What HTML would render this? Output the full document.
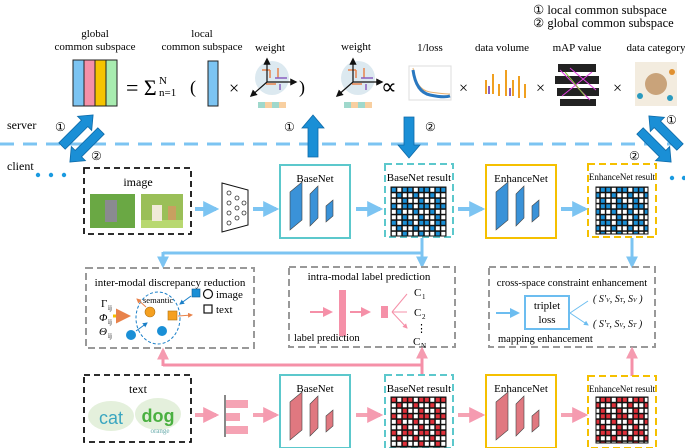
<!DOCTYPE html>
<html><head><meta charset="utf-8"><style>
html,body{margin:0;padding:0;background:#fff;}
svg{display:block;font-family:"Liberation Serif",serif;}
</style></head><body>
<svg width="685" height="448" viewBox="0 0 685 448" xmlns="http://www.w3.org/2000/svg">
<defs>
<pattern id="gb" width="16.5" height="16.5" patternUnits="userSpaceOnUse" x="391" y="187">
<rect width="16.5" height="16.5" fill="#111"/>
<rect x="0.8" y="0.8" width="4" height="4" fill="#1a8fd6"/><rect x="6.3" y="0.8" width="4" height="4" fill="#fff"/><rect x="11.8" y="0.8" width="4" height="4" fill="#1a8fd6"/>
<rect x="0.8" y="6.3" width="4" height="4" fill="#fff"/><rect x="6.3" y="6.3" width="4" height="4" fill="#1a8fd6"/><rect x="11.8" y="6.3" width="4" height="4" fill="#fff"/>
<rect x="0.8" y="11.8" width="4" height="4" fill="#fff"/><rect x="6.3" y="11.8" width="4" height="4" fill="#fff"/><rect x="11.8" y="11.8" width="4" height="4" fill="#1a8fd6"/>
</pattern>
<pattern id="gr" width="16.5" height="16.5" patternUnits="userSpaceOnUse" x="391" y="397">
<rect width="16.5" height="16.5" fill="#111"/>
<rect x="0.8" y="0.8" width="4" height="4" fill="#e0303a"/><rect x="6.3" y="0.8" width="4" height="4" fill="#fff"/><rect x="11.8" y="0.8" width="4" height="4" fill="#e0303a"/>
<rect x="0.8" y="6.3" width="4" height="4" fill="#fff"/><rect x="6.3" y="6.3" width="4" height="4" fill="#e0303a"/><rect x="11.8" y="6.3" width="4" height="4" fill="#fff"/>
<rect x="0.8" y="11.8" width="4" height="4" fill="#fff"/><rect x="6.3" y="11.8" width="4" height="4" fill="#fff"/><rect x="11.8" y="11.8" width="4" height="4" fill="#e0303a"/>
</pattern>
<marker id="ab" viewBox="0 0 10 10" refX="8" refY="5" markerWidth="4" markerHeight="4" orient="auto"><path d="M0,0L10,5L0,10z" fill="#7cc4f2"/></marker>
<marker id="ap" viewBox="0 0 10 10" refX="8" refY="5" markerWidth="4" markerHeight="4" orient="auto"><path d="M0,0L10,5L0,10z" fill="#f59bb0"/></marker>
<marker id="ak" viewBox="0 0 10 10" refX="8" refY="5" markerWidth="6" markerHeight="6" orient="auto"><path d="M0,0L10,5L0,10z" fill="#111"/></marker>
<marker id="ao" viewBox="0 0 10 10" refX="8" refY="5" markerWidth="5" markerHeight="5" orient="auto"><path d="M0,0L10,5L0,10z" fill="#e8824a"/></marker>
<marker id="al" viewBox="0 0 10 10" refX="8" refY="5" markerWidth="5" markerHeight="5" orient="auto"><path d="M0,0L10,5L0,10z" fill="#1a7fc8"/></marker>
<marker id="apk" viewBox="0 0 10 10" refX="8" refY="5" markerWidth="5" markerHeight="5" orient="auto"><path d="M0,0L10,5L0,10z" fill="#f590a8"/></marker>
<marker id="alb" viewBox="0 0 10 10" refX="8" refY="5" markerWidth="5" markerHeight="5" orient="auto"><path d="M0,0L10,5L0,10z" fill="#6cbdf0"/></marker>
<g id="net">
<path d="M10,32 L22,22 L22,60 L10,70z" fill="currentColor" stroke="#444" stroke-width="0.6"/>
<path d="M30,34 L38,26 L38,58 L30,66z" fill="currentColor" stroke="#444" stroke-width="0.6"/>
<path d="M46,46 L53,40 L53,56 L46,62z" fill="currentColor" stroke="#444" stroke-width="0.6"/>
</g>
<path id="darr" d="M0,-4.5 H32 V-10 L44,0 L32,10 V4.5 H0z" fill="#1a8fd6" stroke="#0e6aa8" stroke-width="0.8"/>
</defs>

<!-- legend -->
<text x="533" y="14" font-size="12.5">① local common subspace</text>
<text x="533" y="27" font-size="12.5">② global common subspace</text>

<!-- top labels -->
<g font-size="11" text-anchor="middle">
<text x="95" y="37">global</text><text x="95" y="50">common subspace</text>
<text x="202" y="37">local</text><text x="202" y="50">common subspace</text>
<text x="270" y="51">weight</text><text x="356" y="50">weight</text>
<text x="430" y="51">1/loss</text><text x="502" y="51">data volume</text>
<text x="577" y="51">mAP value</text><text x="656" y="51">data category</text>
</g>
<rect x="73" y="60" width="11" height="46" fill="#7cc4f2" stroke="#222"/>
<rect x="84" y="60" width="11" height="46" fill="#f590a8" stroke="#222"/>
<rect x="95" y="60" width="11" height="46" fill="#f5c400" stroke="#222"/>
<rect x="106" y="60" width="11" height="46" fill="#a8ecb0" stroke="#222"/>
<text x="126" y="95" font-size="22">= Σ</text>
<text x="159" y="84" font-size="11">N</text><text x="159" y="96" font-size="11">n=1</text>
<text x="190" y="93" font-size="18">(</text>
<rect x="208" y="61" width="10" height="45" fill="#7cc4f2" stroke="#222"/>
<text x="229" y="94" font-size="18">×</text>
<text x="299" y="93" font-size="18">)</text>
<text x="381" y="94" font-size="22">∝</text>
<text x="459" y="93" font-size="16">×</text>
<text x="536" y="93" font-size="16">×</text>
<text x="613" y="93" font-size="16">×</text>
<!-- weight icons -->
<g>
<circle cx="272" cy="78" r="17" fill="#dce9f0"/>
<path d="M262,70h8M270,70v8M278,68v10M266,84h10" stroke="#e8824a" stroke-width="1.5" fill="none"/>
<path d="M275,78h12M280,84v6" stroke="#8a5fc0" stroke-width="1.5"/>
<rect x="258" y="102" width="28" height="6" fill="#9fd8cc"/><rect x="265" y="102" width="7" height="6" fill="#f8cfa0"/><rect x="279" y="102" width="7" height="6" fill="#f8cfa0"/>
<path d="M267,82H296" stroke="#111" stroke-width="1.2" marker-end="url(#ak)"/>
<path d="M267,82V59" stroke="#111" stroke-width="1.2" marker-end="url(#ak)"/>
<path d="M267,82L251,96" stroke="#111" stroke-width="1.2" marker-end="url(#ak)"/>
</g>
<g transform="translate(86,0)">
<circle cx="272" cy="78" r="17" fill="#dce9f0"/>
<path d="M262,70h8M270,70v8M278,68v10M266,84h10" stroke="#e8824a" stroke-width="1.5" fill="none"/>
<path d="M275,78h12M280,84v6" stroke="#8a5fc0" stroke-width="1.5"/>
<rect x="258" y="102" width="28" height="6" fill="#9fd8cc"/><rect x="265" y="102" width="7" height="6" fill="#f8cfa0"/><rect x="279" y="102" width="7" height="6" fill="#f8cfa0"/>
<path d="M267,82H296" stroke="#111" stroke-width="1.2" marker-end="url(#ak)"/>
<path d="M267,82V59" stroke="#111" stroke-width="1.2" marker-end="url(#ak)"/>
<path d="M267,82L251,96" stroke="#111" stroke-width="1.2" marker-end="url(#ak)"/>
</g>
<!-- loss chart -->
<rect x="409" y="66" width="42" height="34" fill="#fff" stroke="#ddd"/>
<path d="M413,68 Q416,90 430,92 T450,94" stroke="#e8b070" fill="none"/>
<path d="M413,70 Q416,92 430,95 T450,96" stroke="#2a78c0" stroke-width="3" fill="none"/>
<!-- data volume -->
<g fill="#f0a020"><rect x="485" y="80" width="2" height="14"/><rect x="492" y="74" width="2" height="20"/><rect x="498" y="84" width="2" height="12"/><rect x="505" y="70" width="2" height="26"/><rect x="512" y="80" width="2" height="16"/><rect x="518" y="76" width="2" height="22"/><rect x="524" y="84" width="2" height="14"/></g>
<g fill="#8a5fc0"><rect x="488" y="86" width="2" height="8"/><rect x="509" y="88" width="2" height="8"/></g>
<!-- mAP -->
<g fill="#222"><rect x="558" y="64" width="38" height="8"/><rect x="555" y="76" width="44" height="8"/><rect x="557" y="88" width="42" height="8"/><rect x="560" y="99" width="36" height="7"/></g>
<path d="M560,70 L590,100 M570,68 L596,90 M562,96 L592,72" stroke="#e040e0" stroke-width="1" fill="none"/>
<path d="M565,72 L585,96" stroke="#8ac040"/>
<!-- data category -->
<rect x="635" y="62" width="42" height="44" fill="#f3ecdf"/>
<circle cx="656" cy="84" r="11" fill="#c9a37a"/>
<circle cx="640" cy="96" r="3" fill="#2a9abf"/><circle cx="672" cy="72" r="3" fill="#e09030"/><circle cx="670" cy="98" r="3" fill="#2a9abf"/>

<!-- server/client -->
<text x="7" y="129" font-size="12">server</text>
<text x="7" y="170" font-size="12">client</text>
<line x1="0" y1="144" x2="685" y2="144" stroke="#7cc4f2" stroke-width="3" stroke-dasharray="14,9"/>
<text x="55" y="131" font-size="12">①</text><text x="91" y="160" font-size="12">②</text>
<text x="284" y="131" font-size="12">①</text><text x="425" y="131" font-size="12">②</text>
<text x="666" y="124" font-size="12">①</text><text x="629" y="160" font-size="12">②</text>

<!-- big blue arrows -->
<use href="#darr" transform="translate(62,146) rotate(-45)"/>
<use href="#darr" transform="translate(101,131) rotate(135)"/>
<use href="#darr" transform="translate(680,147) rotate(-135)"/>
<use href="#darr" transform="translate(640,131) rotate(45)"/>
<g fill="#1a8fd6" stroke="#0e6aa8" stroke-width="0.8">
<path d="M308,157 V128 H302 L313,115 L324,128 H318 V157z"/>
<path d="M404,117 V145 H398 L409,158 L420,145 H414 V117z"/>
</g>

<!-- dots -->
<g fill="#1a9ae0"><circle cx="38" cy="175" r="2.2"/><circle cx="51" cy="175" r="2.2"/><circle cx="64" cy="175" r="2.2"/><circle cx="672" cy="178" r="2.2"/><circle cx="684" cy="178" r="2.2"/></g>

<!-- image row -->
<rect x="84" y="168" width="107" height="66" fill="none" stroke="#111" stroke-width="1.8" stroke-dasharray="6,4"/>
<text x="138" y="186" font-size="12" text-anchor="middle">image</text>
<rect x="90" y="194" width="45" height="34" fill="#6aa844"/><rect x="105" y="200" width="12" height="22" fill="#8a8a90"/>
<rect x="141" y="194" width="42" height="34" fill="#9abf58"/><rect x="141" y="220" width="42" height="8" fill="#b8d870"/><rect x="152" y="205" width="10" height="16" fill="#f0ead8"/><rect x="168" y="206" width="8" height="14" fill="#c8a060"/>
<path d="M222,183 L248,190 L248,225 L222,232z" fill="#fff" stroke="#111"/>
<g fill="none" stroke="#333" stroke-width="0.8"><circle cx="229" cy="193" r="2"/><circle cx="229" cy="203" r="2"/><circle cx="229" cy="213" r="2"/><circle cx="229" cy="223" r="2"/><circle cx="237" cy="198" r="2"/><circle cx="237" cy="208" r="2"/><circle cx="237" cy="218" r="2"/><circle cx="244" cy="203" r="2"/><circle cx="244" cy="213" r="2"/></g>
<rect x="280" y="165" width="70" height="73" fill="none" stroke="#5cc8cc" stroke-width="2"/>
<text x="315" y="182" font-size="11" text-anchor="middle">BaseNet</text>
<use href="#net" x="280" y="160" style="color:#3a92d8"/>
<rect x="385" y="164" width="68" height="73" fill="none" stroke="#5cc8cc" stroke-width="2" stroke-dasharray="7,4"/>
<text x="419" y="181" font-size="11" text-anchor="middle">BaseNet result</text>
<rect x="391" y="187" width="55" height="49" fill="url(#gb)" stroke="#111"/>
<rect x="486" y="165" width="70" height="73" fill="none" stroke="#f5c000" stroke-width="2"/>
<text x="521" y="182" font-size="11" text-anchor="middle">EnhanceNet</text>
<use href="#net" x="486" y="160" style="color:#3a92d8"/>
<rect x="588" y="164" width="68" height="73" fill="none" stroke="#f5c000" stroke-width="2" stroke-dasharray="7,4"/>
<text x="622" y="180" font-size="9" text-anchor="middle">EnhanceNet result</text>
<rect x="596" y="187" width="52" height="47" fill="url(#gb)" stroke="#111"/>
<g stroke="#7cc4f2" stroke-width="4" marker-end="url(#ab)">
<line x1="195" y1="209" x2="216" y2="209"/><line x1="253" y1="209" x2="276" y2="209"/><line x1="356" y1="209" x2="380" y2="209"/><line x1="458" y1="209" x2="482" y2="209"/><line x1="561" y1="209" x2="585" y2="209"/>
</g>
<!-- blue connectors -->
<path d="M422,238 V256 M163,253 H422" stroke="#7cc4f2" stroke-width="3" fill="none"/>
<g stroke="#7cc4f2" stroke-width="3" marker-end="url(#ab)"><line x1="163" y1="252" x2="163" y2="266"/><line x1="422" y1="252" x2="422" y2="266"/><line x1="632" y1="238" x2="632" y2="266"/></g>

<!-- middle boxes -->
<g fill="none" stroke="#999" stroke-width="2" stroke-dasharray="7,4">
<rect x="86" y="268" width="168" height="80"/><rect x="289" y="267" width="166" height="80"/><rect x="489" y="267" width="166" height="80"/>
</g>
<text x="170" y="286" font-size="11" text-anchor="middle">inter-modal discrepancy reduction</text>
<text x="101" y="307" font-size="11">Γ</text><text x="108" y="310" font-size="7">ij</text>
<text x="99" y="321" font-size="11" font-style="italic">Φ</text><text x="108" y="324" font-size="7">ij</text>
<text x="99" y="335" font-size="11" font-style="italic">Θ</text><text x="108" y="338" font-size="7">ij</text>
<line x1="113" y1="316" x2="128" y2="316" stroke="#f5c000" stroke-width="3" marker-end="url(#ao)"/>
<ellipse cx="158" cy="318" rx="22" ry="26" fill="none" stroke="#1a7fc8" stroke-dasharray="3,2"/>
<text x="143" y="303" font-size="8.5">semantic</text>
<circle cx="150" cy="312" r="5" fill="#f5a020" stroke="#b07010" stroke-width="0.6"/>
<line x1="146" y1="307" x2="137" y2="299" stroke="#e8824a" marker-end="url(#ao)"/>
<rect x="168" y="311" width="9" height="9" fill="#f5a020" stroke="#b07010" stroke-width="0.6"/>
<line x1="178" y1="316" x2="192" y2="315" stroke="#e8824a" marker-end="url(#ao)"/>
<circle cx="131" cy="335" r="5" fill="#1a8fd6"/><circle cx="162" cy="331" r="5" fill="#1a8fd6"/>
<line x1="136" y1="331" x2="147" y2="323" stroke="#1a7fc8" marker-end="url(#al)"/>
<rect x="192" y="289" width="8" height="8" fill="#1a8fd6" stroke="#0e5a90" stroke-width="0.6"/>
<line x1="191" y1="296" x2="180" y2="304" stroke="#1a7fc8" marker-end="url(#al)"/>
<circle cx="208" cy="294" r="4.5" fill="none" stroke="#111" stroke-width="1.2"/><text x="216" y="298" font-size="11">image</text>
<rect x="204" y="305" width="8" height="8" fill="none" stroke="#111" stroke-width="1.2"/><text x="216" y="313" font-size="11">text</text>

<text x="369" y="280" font-size="11" text-anchor="middle">intra-modal label prediction</text>
<line x1="310" y1="312" x2="331" y2="312" stroke="#f590a8" stroke-width="2" marker-end="url(#apk)"/>
<rect x="339" y="290" width="7" height="46" fill="#f590a8"/>
<line x1="350" y1="312" x2="369" y2="312" stroke="#f590a8" stroke-width="2" marker-end="url(#apk)"/>
<rect x="381" y="306" width="7" height="12" fill="#f590a8"/>
<path d="M392,312 L407,294 M392,312 L407,312 M392,312 L407,328" stroke="#f590a8" fill="none" marker-end="url(#apk)"/>
<text x="414" y="296" font-size="11">C</text><text x="422" y="299" font-size="7">1</text>
<text x="414" y="316" font-size="11">C</text><text x="422" y="319" font-size="7">2</text>
<text x="416" y="332" font-size="11">⋮</text>
<text x="413" y="345" font-size="11">C</text><text x="421" y="348" font-size="7">N</text>
<text x="294" y="341" font-size="10.5">label prediction</text>

<text x="572" y="286" font-size="10.5" text-anchor="middle">cross-space constraint enhancement</text>
<line x1="496" y1="313" x2="518" y2="313" stroke="#6cbdf0" stroke-width="2" marker-end="url(#alb)"/>
<rect x="525" y="296" width="44" height="33" fill="#fff" stroke="#6cbdf0" stroke-width="2"/>
<text x="547" y="309" font-size="11" text-anchor="middle">triplet</text><text x="547" y="323" font-size="11" text-anchor="middle">loss</text>
<path d="M570,313 L588,301 M570,313 L588,325" stroke="#6cbdf0" fill="none" marker-end="url(#alb)"/>
<text x="593" y="302" font-size="10" font-style="italic">( S′<tspan font-size="6">V</tspan>, S<tspan font-size="6">T</tspan>, S<tspan font-size="6">V</tspan> )</text>
<text x="593" y="327" font-size="10" font-style="italic">( S′<tspan font-size="6">T</tspan>, S<tspan font-size="6">V</tspan>, S<tspan font-size="6">T</tspan> )</text>
<text x="498" y="342" font-size="10.5">mapping enhancement</text>

<!-- pink connectors -->
<path d="M422,375 V364 M163,365 H422" stroke="#f590a8" stroke-width="3" fill="none"/>
<g stroke="#f590a8" stroke-width="3" marker-end="url(#ap)"><line x1="163" y1="366" x2="163" y2="350"/><line x1="422" y1="366" x2="422" y2="349"/><line x1="632" y1="376" x2="632" y2="349"/></g>

<!-- text row -->
<rect x="84" y="375" width="107" height="67" fill="none" stroke="#111" stroke-width="1.8" stroke-dasharray="6,4"/>
<text x="138" y="393" font-size="12" text-anchor="middle">text</text>
<ellipse cx="111" cy="416" rx="23" ry="15" fill="#e4f0dc"/><ellipse cx="158" cy="414" rx="23" ry="16" fill="#e4f0dc"/>
<text x="111" y="424" font-size="18" fill="#3aa6c0" text-anchor="middle" font-family="Liberation Sans,sans-serif">cat</text>
<text x="158" y="422" font-size="18" fill="#4ab040" text-anchor="middle" font-family="Liberation Sans,sans-serif" font-weight="bold">dog</text>
<text x="160" y="433" font-size="7" fill="#6aa" text-anchor="middle">orange</text>
<path d="M225,395 V437" stroke="#111" fill="none"/>
<rect x="226" y="400" width="22" height="8" fill="#f5a3b4"/><rect x="226" y="413" width="14" height="8" fill="#f5a3b4"/><rect x="226" y="426" width="22" height="8" fill="#f5a3b4"/>
<rect x="280" y="375" width="70" height="73" fill="none" stroke="#5cc8cc" stroke-width="2"/>
<text x="315" y="392" font-size="11" text-anchor="middle">BaseNet</text>
<use href="#net" x="280" y="370" style="color:#e07880"/>
<rect x="385" y="375" width="68" height="73" fill="none" stroke="#5cc8cc" stroke-width="2" stroke-dasharray="7,4"/>
<text x="419" y="392" font-size="11" text-anchor="middle">BaseNet result</text>
<rect x="391" y="397" width="55" height="50" fill="url(#gr)" stroke="#111"/>
<rect x="486" y="375" width="70" height="73" fill="none" stroke="#f5c000" stroke-width="2"/>
<text x="521" y="392" font-size="11" text-anchor="middle">EnhanceNet</text>
<use href="#net" x="486" y="370" style="color:#e07880"/>
<rect x="588" y="376" width="68" height="72" fill="none" stroke="#f5c000" stroke-width="2" stroke-dasharray="7,4"/>
<text x="622" y="392" font-size="9" text-anchor="middle">EnhanceNet result</text>
<rect x="596" y="397" width="52" height="46" fill="url(#gr)" stroke="#111"/>
<g stroke="#f5a3b4" stroke-width="4" marker-end="url(#ap)">
<line x1="195" y1="415" x2="216" y2="415"/><line x1="253" y1="415" x2="276" y2="415"/><line x1="356" y1="415" x2="380" y2="415"/><line x1="458" y1="415" x2="482" y2="415"/><line x1="561" y1="415" x2="585" y2="415"/>
</g>
</svg>
</body></html>
